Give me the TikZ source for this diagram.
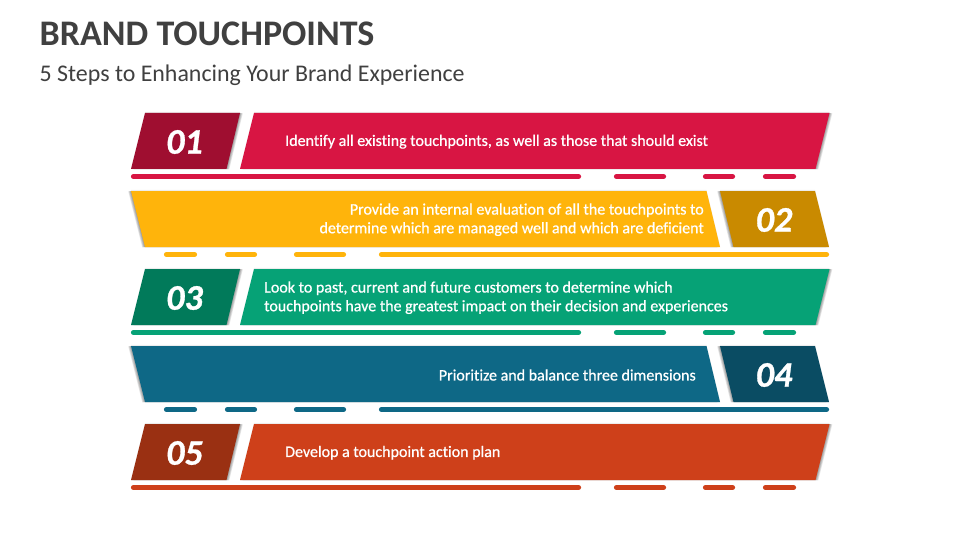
\documentclass[tikz,border=0pt]{standalone}
\usepackage{fontspec}
\setmainfont[Ligatures=NoCommon]{Carlito}
\newfontfamily\bodyfont[Ligatures=NoCommon,FakeBold=0.7]{Carlito}
\newfontfamily\numfont[BoldItalicFeatures={FakeBold=0.8}]{Carlito}
\definecolor{redA}{HTML}{D81543}\definecolor{redB}{HTML}{9F0E30}
\definecolor{yelA}{HTML}{FFB40B}\definecolor{yelB}{HTML}{C98A00}
\definecolor{grnA}{HTML}{06A276}\definecolor{grnB}{HTML}{017A5A}
\definecolor{bluA}{HTML}{0E6886}\definecolor{bluB}{HTML}{0A4C63}
\definecolor{orgA}{HTML}{CE401A}\definecolor{orgB}{HTML}{9A3012}
\definecolor{ink}{HTML}{404040}
\tikzset{
  x=1pt,y=-1pt,
  title/.style={anchor=base west,inner sep=0,text=ink,font=\fontsize{36}{36}\selectfont\bfseries},
  subtitle/.style={anchor=base west,inner sep=0,text=ink,font=\fontsize{23.9}{24}\selectfont},
  body/.style={inner sep=0,text=white,font=\fontsize{16}{18.7}\selectfont\bodyfont},
  num/.style={inner sep=0,text=white,font=\fontsize{36}{36}\selectfont\numfont\bfseries\itshape},
  rule/.style={line width=5.2pt,line cap=round},
}
\newcommand{\shadowpoly}[3]{%
  \foreach \s in {0.7,1.4,2.1,2.8}{%
    \fill[black,opacity=0.10,shift={({#1*\s},{0.1*\s})}] #2;}%
  \fill[black,opacity=0.07,shift={(0,-1.2)}] #2;%
  \fill[#3] #2;}
\newcommand{\oddrow}[4]{%
  \begin{scope}[shift={(0,#1)}]
    \shadowpoly{1}{(145,0)--(240,0)--(226.5,56)--(131,56)--cycle}{#3}
    \shadowpoly{1}{(254,0)--(829.5,0)--(815.5,56)--(240,56)--cycle}{#2}
    \node[num] (n#4) at (184.5,29) {0#4};
    \draw[rule,#2] (133.5,63.5)--(578.5,63.5) (616.5,63.5)--(663.5,63.5) (705.5,63.5)--(732.5,63.5) (765.5,63.5)--(793.5,63.5);
  \end{scope}}
\newcommand{\evenrow}[4]{%
  \begin{scope}[shift={(0,#1)}]
    \shadowpoly{-1}{(131,0)--(706.5,0)--(720,56)--(145,56)--cycle}{#2}
    \shadowpoly{-1}{(720,0)--(815,0)--(829,56)--(733.5,56)--cycle}{#3}
    \node[num] (n#4) at (774,29) {0#4};
    \draw[rule,#2] (166.5,63.5)--(194.5,63.5) (227.5,63.5)--(254.5,63.5) (296.5,63.5)--(343.5,63.5) (381.5,63.5)--(826.5,63.5);
  \end{scope}}
\begin{document}
\begin{tikzpicture}
\useasboundingbox (0,0) rectangle (960,540);
\fill[white] (0,0) rectangle (960,540);
\node[title] (ttl) at (39.5,46) {BRAND TOUCHPOINTS};
\node[subtitle] (sub) at (39.5,81.5) {5 Steps to Enhancing Your Brand Experience};
\oddrow{113}{redA}{redB}{1}
\evenrow{191}{yelA}{yelB}{2}
\oddrow{269}{grnA}{grnB}{3}
\evenrow{346}{bluA}{bluB}{4}
\oddrow{424}{orgA}{orgB}{5}
\node[body,anchor=west] (t1) at (285,141.7) {Identify all existing touchpoints, as well as those that should exist};
\node[body,anchor=east,align=right] (t2) at (704,219.7) {Provide an internal evaluation of all the touchpoints to\\determine which are managed well and which are deficient};
\node[body,anchor=west,align=left] (t3) at (264,297.7) {Look to past, current and future customers to determine which\\touchpoints have the greatest impact on their decision and experiences};
\node[body,anchor=east] (t4) at (696,375) {Prioritize and balance three dimensions};
\node[body,anchor=west] (t5) at (285,452.7) {Develop a touchpoint action plan};
\end{tikzpicture}
\end{document}
